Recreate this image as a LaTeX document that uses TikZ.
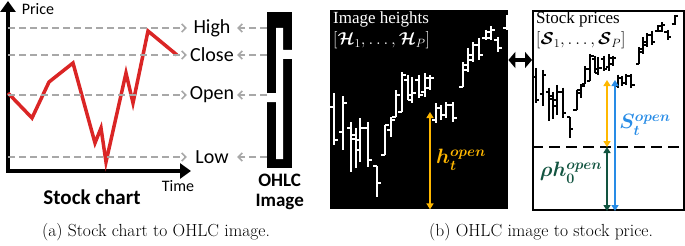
\documentclass[tikz,border=0pt]{standalone}
\usepackage{fontspec}
\usepackage{bm}
\usetikzlibrary{arrows.meta,positioning}
\newfontfamily\calib{Carlito}
\newfontfamily\tnr{Liberation Serif}
\definecolor{chartred}{RGB}{218,37,37}
\definecolor{guidegray}{RGB}{168,168,168}
\definecolor{gold}{RGB}{255,184,0}
\definecolor{skyblue}{RGB}{40,140,230}
\definecolor{pine}{RGB}{18,84,64}
\newcommand{\fs}[1]{\fontsize{#1}{#1}\selectfont}
% open/high/low/close bars, image pixel coordinates
\newcommand{\ohlcbars}{%
 \foreach \x/\hi/\lo/\op/\cl in {334/93/145/107/140,343/96/150/132/103,351/122/172/128/139,
   356/128/168/135/150,360/118/162/140/128,368/122/167/128/160,377/166/197/166/183,
   385/125/155/155/125,391/117/137/130/120,396/90/117/117/95,402/72/112/112/75,
   408/75/100/80/95,412/77/103/100/93,419/75/98/80/95,425/73/97/92/78,430/75/90/88/78,
   436/103/123/120/108,441/105/120/108/115,446/102/118/115/105,453/102/122/105/118,
   463/62/87/87/65,468/48/72/70/55,473/42/62/60/45,479/38/60/45/55,486/30/40/38/32,
   491/26/40/38/30,498/37/52/40/48,507/15/30/28/16}{
  \draw (\x,\hi) -- (\x,\lo) (\x-4,\op) -- (\x,\op) (\x,\cl) -- (\x+4,\cl);
 }}

\begin{document}
\begin{tikzpicture}[x=1pt,y=-1pt,
 lvl/.style={font=\calib\fs{20},minimum width=50pt,inner sep=0pt},
 guide/.style={guidegray,line width=1.5pt,dash pattern=on 7pt off 4pt,-{Straight Barb[length=4pt,width=8pt]}},
 axis/.style={line width=3.5pt,{Triangle[length=11pt,width=15pt]}-{Triangle[length=11pt,width=15pt]}},
 meas/.style={line width=2.5pt,{Triangle[length=6pt,width=7pt]}-{Triangle[length=6pt,width=7pt]}},
 ptxt/.style={font=\tnr\fontsize{17}{21}\selectfont,align=left,anchor=north west,inner sep=0pt},
 mlab/.style={font=\fs{20}\boldmath}]
 \useasboundingbox (0,0) rectangle (685,246);

 % (a) stock chart
 \coordinate (origin) at (8,171);
 \coordinate (ytop) at (8,1);
 \coordinate (xend) at (191,171);
 \draw[axis] (ytop) -- (origin) -- (xend);
 \node[font=\calib\fs{16}] (price) at (38,9) {Price};
 \node[font=\calib\fs{16}] (time) at (178,186) {Time};
 \node[font=\calib\bfseries\fs{21}] (chart) at (92,197) {Stock chart};
 \draw[chartred,line width=3.5pt,line join=miter] (8,93) -- (32,118) -- (49,82) -- (73,63)
   -- (95,143) -- (101,128) -- (106,162) -- (126,73) -- (133,103) -- (148,31) -- (177,55);

 \node[lvl] (lhigh) at (212,28) {High};
 \node[lvl] (lclose) at (212,55) {Close};
 \node[lvl] (lopen) at (212,95) {Open};
 \node[lvl] (llow) at (212,157) {Low};

 % OHLC image
 \node[fill=black,minimum width=25pt,minimum height=156pt,inner sep=0pt,anchor=north west] (ohlc) at (267,12) {};
 \fill[white] (276,28) rectangle (283,159) (266,93) rectangle (276,102) (283,50) rectangle (293,59);
 \node[font=\calib\bfseries\fontsize{19}{20}\selectfont,align=center,below=2pt of ohlc] (ohlctxt) {OHLC\\Image};

 \foreach \l in {lhigh,lclose,lopen,llow}{
  \draw[guide] (\l -| origin) -- (\l.west);
  \draw[guide] (\l -| ohlc.west) -- (\l.east);
 }

 % (b) image heights and stock prices
 \node[fill=black,minimum width=178pt,minimum height=199pt,inner sep=0pt,anchor=north west] (hpanel) at (330,10) {};
 \node[draw=black,line width=2pt,minimum width=151pt,minimum height=199pt,inner sep=0pt,anchor=north west] (spanel) at (532,10) {};
 \begin{scope}[white,line width=2.2pt]
  \ohlcbars
 \end{scope}
 \begin{scope}[black,line width=2pt,shift={(267.1,4.8)},xscale=0.804,yscale=0.678]
  \ohlcbars
 \end{scope}
 \node[ptxt,white] (htxt) at (333,12) {Image heights\\$[\bm{\mathcal{H}}_1,\ldots,\bm{\mathcal{H}}_P]$};
 \node[ptxt] (stxt) at (536,12) {Stock prices\\$[\bm{\mathcal{S}}_1,\ldots,\bm{\mathcal{S}}_P]$};

 \coordinate (linky) at (520,60);
 \draw[line width=4pt,{Triangle[length=7pt,width=16pt]}-{Triangle[length=7pt,width=16pt]}]
   (hpanel.east |- linky) -- (spanel.west |- linky);

 \coordinate (htop) at (430,112);
 \coordinate (zero) at (607,147);
 \coordinate (stop) at (607,80);
 \draw[line width=1.5pt,dash pattern=on 11pt off 6pt] (spanel.west |- zero) -- (spanel.east |- zero);
 \draw[meas,gold] (htop) -- (htop |- hpanel.south);
 \draw[meas,gold] (stop) -- (zero);
 \draw[meas,pine] (zero) -- (zero |- spanel.south);
 \draw[meas,skyblue] ([xshift=8pt]stop) -- ([xshift=8pt]stop |- spanel.south);
 \node[mlab,gold] (hlab) at (461,160) {$h_t^{open}$};
 \node[mlab,skyblue] (slab) at (645,125) {$S_t^{open}$};
 \node[mlab,pine] (rlab) at (571,173) {$\rho h_0^{open}$};

 % captions
 \node[font=\fs{17.5}] (capa) at (156,232) {(a) Stock chart to OHLC image.};
 \node[font=\fs{17.5}] (capb) at (541,232) {(b) OHLC image to stock price.};
\end{tikzpicture}
\end{document}
